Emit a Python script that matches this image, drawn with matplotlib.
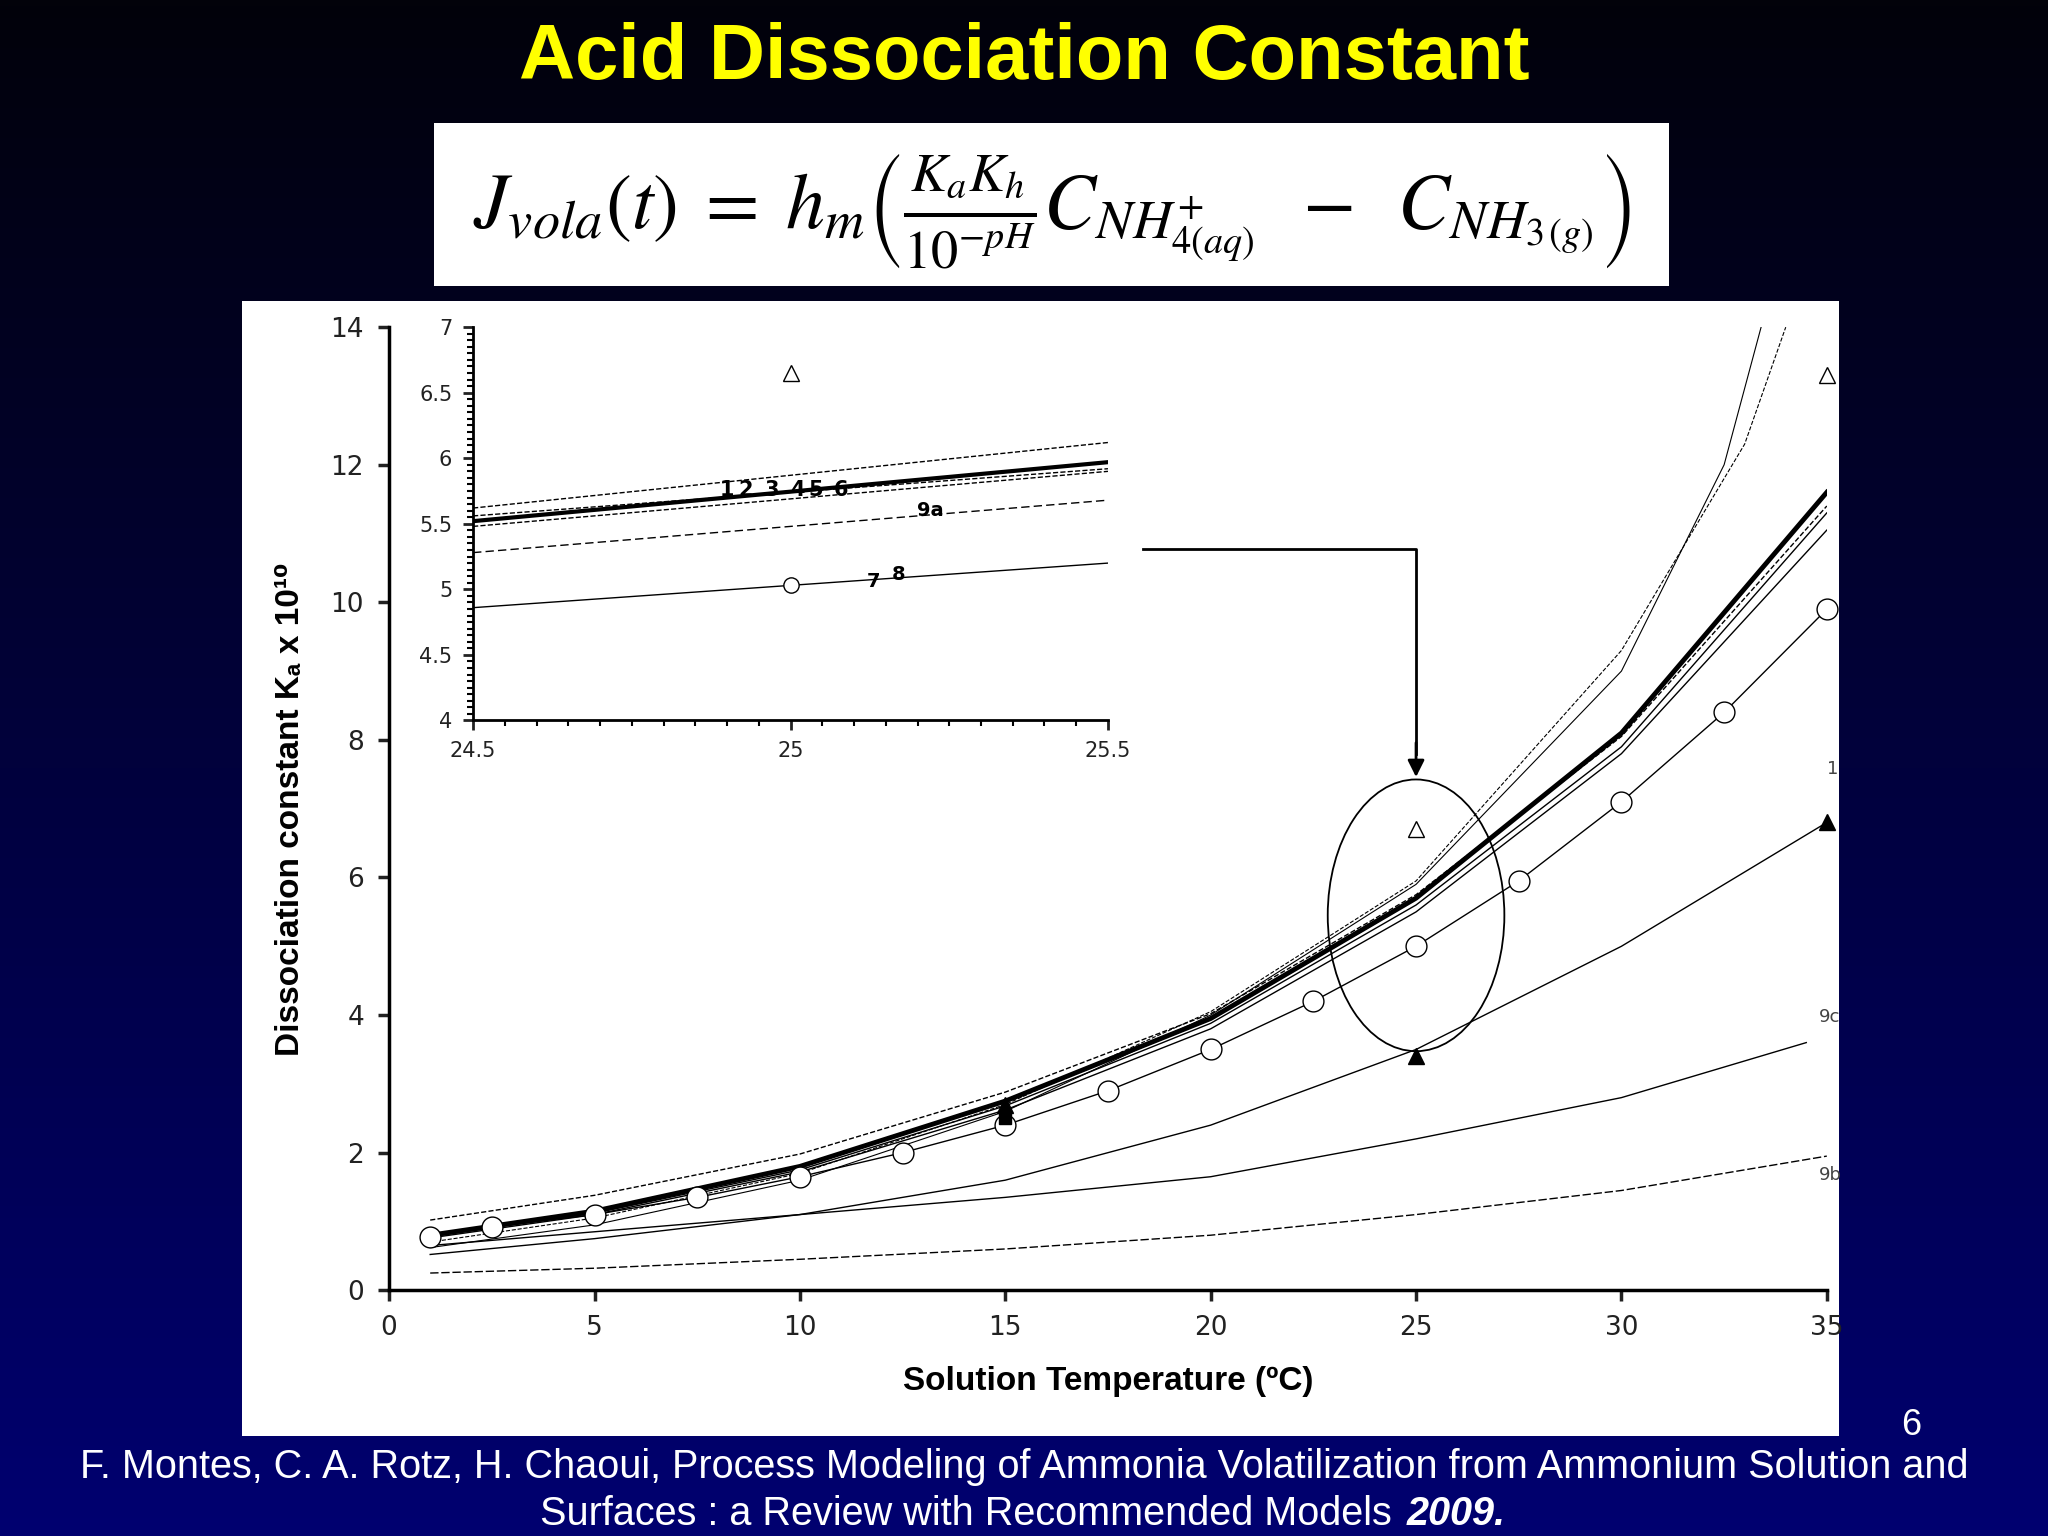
import matplotlib.pyplot as plt
import numpy as np
from matplotlib.patches import Ellipse

# temperatures (deg C) and curves (Ka x 1e10)
t_main = [1, 5, 10, 15, 20, 25, 30, 35]
ka_thick = [0.80, 1.15, 1.80, 2.75, 3.95, 5.70, 8.10, 11.60]
ka_thin_a = [0.78, 1.12, 1.75, 2.68, 3.88, 5.60, 7.90, 11.30]
ka_thin_b = [0.76, 1.10, 1.72, 2.62, 3.80, 5.50, 7.80, 11.05]
ka_dash_up = [1.02, 1.38, 1.98, 2.88, 4.02, 5.75, 8.05, 11.4]
ka_low1 = [0.52, 0.75, 1.10, 1.60, 2.40, 3.50, 5.00, 6.80]
t_9c = [1, 5, 10, 15, 20, 25, 30, 34.5]
ka_9c = [0.65, 0.85, 1.10, 1.35, 1.65, 2.20, 2.80, 3.60]
ka_9b = [0.25, 0.32, 0.45, 0.60, 0.80, 1.10, 1.45, 1.95]
t_steep = [1, 5, 10, 15, 20, 25, 30, 32.5, 33.4]
ka_steep = [0.62, 0.95, 1.60, 2.60, 4.00, 5.90, 9.00, 12.0, 14.0]
t_steep_d = [1, 5, 10, 15, 20, 25, 30, 33.0, 34.0]
ka_steep_d = [0.70, 1.05, 1.70, 2.70, 4.05, 5.95, 9.30, 12.3, 14.0]

t_circ = [1, 2.5, 5, 7.5, 10, 12.5, 15, 17.5, 20, 22.5, 25, 27.5, 30, 32.5, 35]
ka_circ = [0.78, 0.92, 1.10, 1.35, 1.65, 2.00, 2.40, 2.90, 3.50, 4.20, 5.00, 5.95, 7.10, 8.40, 9.90]
t_ftri = [15, 25, 35]
ka_ftri = [2.70, 3.40, 6.80]
t_otri = [25, 35]
ka_otri = [6.70, 13.30]

# inset (24.5 - 25.5 deg C)
t_in = [24.5, 25.5]
in_dash_up = [5.62, 6.12]
in_thick = [5.52, 5.97]
in_dash_mid = [5.56, 5.92]
in_dash_lo = [5.48, 5.90]
in_9a = [5.28, 5.68]
in_78 = [4.86, 5.20]

plt.rcParams['mathtext.fontset'] = 'stix'
sans = ['Liberation Sans', 'DejaVu Sans']

fig = plt.figure(figsize=(20.48, 15.36), dpi=100)

# background gradient
bg = fig.add_axes([0, 0, 1, 1])
grad = np.linspace(0, 1, 256).reshape(-1, 1)
bg.imshow(grad, aspect='auto', extent=[0, 1, 0, 1], origin='upper',
          cmap=plt.matplotlib.colors.LinearSegmentedColormap.from_list('b', ['#02020a', '#000070']))
bg.axis('off')

fig.text(0.5, 0.962, 'Acid Dissociation Constant', color='#ffff00', fontsize=56,
         fontweight='bold', ha='center', va='center', family=sans)

eq = fig.add_axes([0.212, 0.814, 0.603, 0.106])
eq.set_facecolor('white'); eq.set_xticks([]); eq.set_yticks([])
for s in eq.spines.values():
    s.set_visible(False)
eq.text(0.5, 0.46, r'$J_{vola}(t)\;=\;h_m\left(\frac{K_a K_h}{10^{-pH}}C_{NH_{4(aq)}^{+}}\;\;-\;\;C_{NH_{3\,(g)}}\right)$',
        fontsize=56, ha='center', va='center')

panel = fig.add_axes([0.118, 0.065, 0.780, 0.739])
panel.set_facecolor('white'); panel.set_xticks([]); panel.set_yticks([])
for s in panel.spines.values():
    s.set_visible(False)

ax = fig.add_axes([0.190, 0.160, 0.702, 0.627])
ax.patch.set_alpha(0)
k = dict(color='black', lw=1.0)
ax.plot(t_main, ka_thick, color='black', lw=3.5)
ax.plot(t_main, ka_thin_a, **k)
ax.plot(t_main, ka_thin_b, **k)
ax.plot(t_main, ka_dash_up, color='black', lw=1.0, ls='--')
ax.plot(t_main, ka_low1, **k)
ax.plot(t_9c, ka_9c, **k)
ax.plot(t_main, ka_9b, color='black', lw=1.0, ls=(0, (6, 2)))
ax.plot(t_steep, ka_steep, color='black', lw=0.8)
ax.plot(t_steep_d, ka_steep_d, color='black', lw=0.8, ls='--')
ax.plot(t_circ, ka_circ, color='black', lw=1.0, marker='o', ms=15, mfc='white', mec='black', clip_on=False)
ax.plot(t_ftri, ka_ftri, 'k^', ms=11, ls='none', clip_on=False)
ax.plot([15], [2.5], 'ks', ms=9)
ax.plot(t_otri, ka_otri, '^', ms=11, mfc='white', mec='black', ls='none', clip_on=False)
for tx, ty, lab in [(35.0, 7.5, '1'), (34.8, 3.9, '9c'), (34.8, 1.6, '9b')]:
    ax.text(tx, ty, lab, fontsize=13, color='#444444')
ax.add_patch(Ellipse((25, 5.45), 4.3, 3.95, fill=False, color='black', lw=1.3))
ax.plot([18.36, 25, 25], [10.78, 10.78, 7.8], color='black', lw=2)
ax.annotate('', xy=(25, 7.42), xytext=(25, 8.0),
            arrowprops=dict(arrowstyle='-|>', color='black', lw=2, mutation_scale=25))
ax.set_xlim(0, 35); ax.set_ylim(0, 14)
ax.set_xticks(range(0, 36, 5)); ax.set_yticks(range(0, 15, 2))
ax.spines['top'].set_visible(False); ax.spines['right'].set_visible(False)
ax.spines['left'].set_linewidth(2.5); ax.spines['bottom'].set_linewidth(2.5)
ax.tick_params(direction='out', width=2.5, length=8, labelsize=19, colors='#222222', pad=10)
ax.set_xlabel('Solution Temperature (ºC)', fontsize=24, fontweight='bold', labelpad=18, family=sans)
ax.set_ylabel('Dissociation constant Kₐ x 10¹⁰', fontsize=24,
              fontweight='bold', labelpad=18, family=sans)

ins = fig.add_axes([0.231, 0.531, 0.310, 0.256])
ins.patch.set_alpha(0)
ins.plot(t_in, in_dash_up, color='black', lw=1, ls='--')
ins.plot(t_in, in_thick, color='black', lw=3)
ins.plot(t_in, in_dash_mid, color='black', lw=1, ls='--')
ins.plot(t_in, in_dash_lo, color='black', lw=1, ls='--')
ins.plot(t_in, in_9a, color='black', lw=1, ls=(0, (6, 3)))
ins.plot(t_in, in_78, color='black', lw=1)
ins.plot([25], [5.03], 'o', ms=11, mfc='white', mec='black')
ins.plot([25], [6.65], '^', ms=11, mfc='white', mec='black')
for tx, lab in zip([24.9, 24.93, 24.97, 25.01, 25.04, 25.08], ['1', '2', '3', '4', '5', '6']):
    ins.text(tx, 5.76, lab, fontsize=15, fontweight='bold', ha='center', va='center')
ins.text(25.22, 5.6, '9a', fontsize=14, fontweight='bold', ha='center', va='center')
ins.text(25.13, 5.06, '7', fontsize=14, fontweight='bold', ha='center', va='center')
ins.text(25.17, 5.11, '8', fontsize=14, fontweight='bold', ha='center', va='center')
ins.set_xlim(24.5, 25.5); ins.set_ylim(4, 7)
ins.set_xticks([24.5, 25, 25.5]); ins.set_xticklabels(['24.5', '25', '25.5'])
ins.set_xticks(np.arange(24.5, 25.51, 0.05), minor=True)
ins.set_yticks([4, 4.5, 5, 5.5, 6, 6.5, 7]); ins.set_yticklabels(['4', '4.5', '5', '5.5', '6', '6.5', '7'])
ins.set_yticks(np.arange(4, 7.01, 0.05), minor=True)
ins.spines['top'].set_visible(False); ins.spines['right'].set_visible(False)
ins.spines['left'].set_linewidth(2); ins.spines['bottom'].set_linewidth(2)
ins.tick_params(direction='out', width=2, length=7, labelsize=15, colors='#222222', pad=8)
ins.tick_params(which='minor', direction='out', width=1.5, length=4)

fig.text(0.933, 0.066, '6', color='white', fontsize=26, ha='center', family=sans)
fig.text(0.5, 0.045, 'F. Montes, C. A. Rotz, H. Chaoui, Process Modeling of Ammonia Volatilization from Ammonium Solution and',
         color='white', fontsize=28.5, ha='center', va='center', family=sans)
fig.text(0.685, 0.014, 'Surfaces : a Review with Recommended Models ',
         color='white', fontsize=28.5, ha='right', va='center', family=sans)
fig.text(0.687, 0.014, '2009.', color='white', fontsize=28.5, ha='left', va='center',
         family=sans, fontweight='bold', fontstyle='italic')

fig.savefig('out.png', dpi=100)
